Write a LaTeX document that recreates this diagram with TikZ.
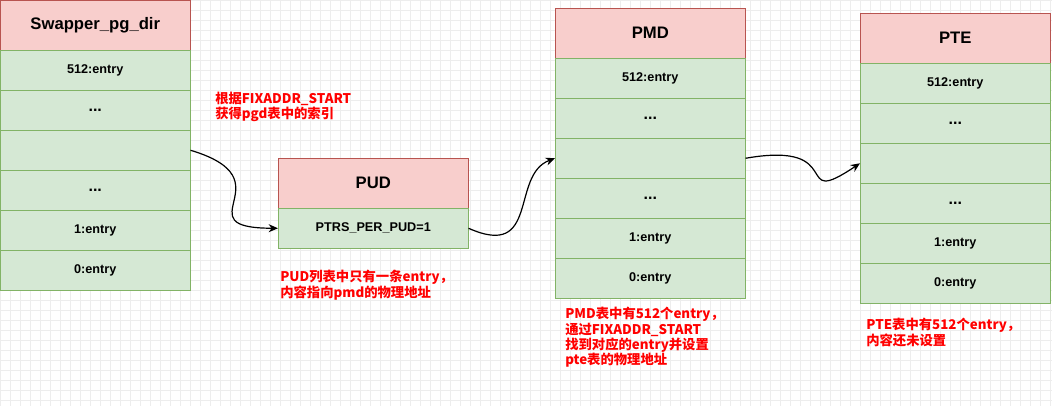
\documentclass[tikz,border=0pt]{standalone}
\usepackage{fontspec}
\setmainfont{Liberation Sans}
\newfontfamily\cjk{Noto Sans CJK SC}
\usetikzlibrary{arrows.meta}
\definecolor{hdfill}{HTML}{F8CECC}\definecolor{hdline}{HTML}{B85450}
\definecolor{rwfill}{HTML}{D5E8D4}\definecolor{rwline}{HTML}{82B366}
\definecolor{gridc}{HTML}{EDEDED}
\begin{document}
\begin{tikzpicture}[x=0.75pt,y=-0.75pt,
  hd/.style={draw=hdline,fill=hdfill,minimum width=142.5pt,minimum height=37.5pt,font=\bfseries\fontsize{12.5}{14}\selectfont,inner sep=0,anchor=north west},
  rw/.style={draw=rwline,fill=rwfill,minimum width=142.5pt,minimum height=30pt,font=\bfseries\fontsize{9.5}{11}\selectfont,inner sep=0,anchor=north west},
  note/.style={text=red,font=\cjk\bfseries\fontsize{10}{11.5}\selectfont,align=left,anchor=north west,inner sep=0},
  arr/.style={-{Stealth[length=7pt,width=6pt]},line width=0.9pt,black}]
\useasboundingbox (0,0) rectangle (1052,406);
\draw[gridc,step=7.5pt] (0,0) grid (1052,406);
% Swapper
\node[hd] (s0) at (0,0) {Swapper\_pg\_dir};
\node[rw] (s1) at (0,50) {512:entry};
\node[rw] (s2) at (0,90) {\large ...};
\node[rw] (s3) at (0,130) {};
\node[rw] (s4) at (0,170) {\large ...};
\node[rw] (s5) at (0,210) {1:entry};
\node[rw] (s6) at (0,250) {0:entry};
% PUD
\node[hd] (u0) at (278,158) {PUD};
\node[rw] (u1) at (278,208) {PTRS\_PER\_PUD=1};
% PMD
\node[hd] (m0) at (555,8) {PMD};
\node[rw] (m1) at (555,58) {512:entry};
\node[rw] (m2) at (555,98) {\large ...};
\node[rw] (m3) at (555,138) {};
\node[rw] (m4) at (555,178) {\large ...};
\node[rw] (m5) at (555,218) {1:entry};
\node[rw] (m6) at (555,258) {0:entry};
% PTE
\node[hd] (t0) at (860,13) {PTE};
\node[rw] (t1) at (860,63) {512:entry};
\node[rw] (t2) at (860,103) {\large ...};
\node[rw] (t3) at (860,143) {};
\node[rw] (t4) at (860,183) {\large ...};
\node[rw] (t5) at (860,223) {1:entry};
\node[rw] (t6) at (860,263) {0:entry};
% arrows
\draw[arr] (s3.east) .. controls (290,180) and (180,228) .. (u1.west);
\draw[arr] (u1.east) .. controls (540,260) and (510,175) .. (m3.west);
\draw[arr] (m3.east) .. controls (850,140) and (790,210) .. (t3.west);
% notes
\node[note] (n1) at (215,92) {根据FIXADDR\_START\\获得pgd表中的索引};
\node[note] (n2) at (280,270) {PUD列表中只有一条entry，\\内容指向pmd的物理地址};
\node[note] (n3) at (565,307) {PMD表中有512个entry，\\通过FIXADDR\_START\\找到对应的entry并设置\\pte表的物理地址};
\node[note] (n4) at (866,318) {PTE表中有512个entry，\\内容还未设置};
\end{tikzpicture}
\end{document}
